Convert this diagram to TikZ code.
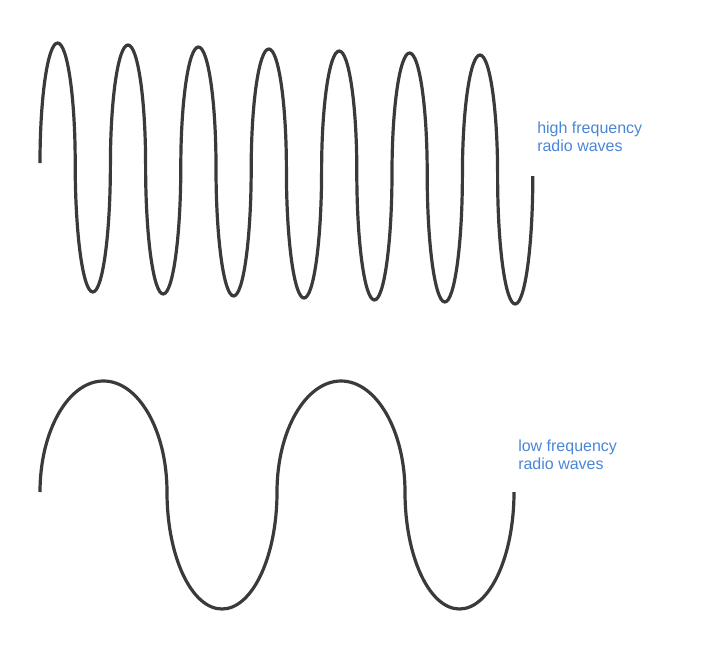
\documentclass[tikz,border=0pt]{standalone}
\usepackage{fontspec}
\setmainfont{Liberation Sans}
\definecolor{wavegray}{HTML}{3A3A3A}
\definecolor{labelblue}{HTML}{4A86D6}
\tikzset{
  wave/.style={draw=wavegray,line width=2.4pt,line join=round},
  wavelabel/.style={text=labelblue,font=\fontsize{12pt}{13.5pt}\selectfont,align=left,anchor=north west,inner sep=0pt}
}
\begin{document}
\begin{tikzpicture}[x=0.75pt,y=0.75pt]
  \useasboundingbox (0,0) rectangle (710,-661);
  % high frequency
  \draw[wave] (40,-163)
    \foreach \i in {0,2,...,12}{
      -- ({40+35.2*\i},{-163-\i}) arc[start angle=180,end angle=0,x radius=17.6,y radius=120]
      -- ({40+35.2*(\i+1)},{-164-\i}) arc[start angle=180,end angle=360,x radius=17.6,y radius=128]
    };
  \node[wavelabel] (high) at (537,-122) {high frequency\\radio waves};
  % low frequency
  \draw[wave] (40,-492)
    arc[start angle=180,end angle=0,x radius=63.5,y radius=111]
    arc[start angle=180,end angle=360,x radius=55,y radius=117]
    arc[start angle=180,end angle=0,x radius=64,y radius=111]
    arc[start angle=180,end angle=360,x radius=54.5,y radius=117];
  \node[wavelabel] (low) at (518,-440) {low frequency\\radio waves};
\end{tikzpicture}
\end{document}
